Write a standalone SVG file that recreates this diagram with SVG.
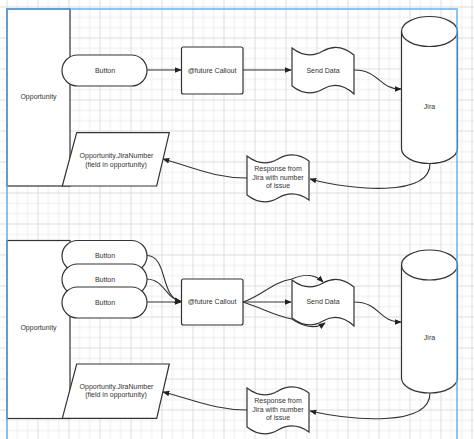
<svg xmlns="http://www.w3.org/2000/svg" width="474" height="439" viewBox="0 0 474 439">
<defs>
<pattern id="grid" width="31" height="31" patternUnits="userSpaceOnUse" x="6.5" y="6.5">
<path d="M10.83 0V31M21.17 0V31M0 10.83H31M0 21.17H31" stroke="#ececec" stroke-width="1" fill="none"/>
<path d="M0.5 0V31M0 0.5H31" stroke="#dcdcdc" stroke-width="1" fill="none"/>
</pattern>
<marker id="ah" viewBox="0 0 10 10" refX="9" refY="5" markerWidth="7" markerHeight="7" markerUnits="userSpaceOnUse" orient="auto">
<path d="M0,1 L10,5 L0,9 z" fill="#222"/>
</marker>
<style>
.s{fill:#fff;stroke:#333;stroke-width:1.2}
.c{fill:none;stroke:#333;stroke-width:1.1;marker-end:url(#ah)}
.n{fill:none;stroke:#333;stroke-width:1.2}
text{font-family:"Liberation Sans",Arial,sans-serif;font-size:7px;fill:#333;text-anchor:middle}
</style>
</defs>
<rect width="474" height="439" fill="#fff"/>
<rect width="474" height="439" fill="url(#grid)"/>

<g id="connectors">
<path class="c" d="M147,70 H181"/>
<path class="c" d="M243,70 H291"/>
<path class="c" d="M354,70 C380,70 378,89 401,89"/>
<path class="c" d="M430,163 C431,198 350,190 310,179"/>
<path class="c" d="M247,178 C215,178 195,168 163,159"/>
<path class="c" d="M147,255.5 C168,256 160,298 181,301.5"/>
<path class="c" d="M147,279 C165,280 165,298 181,301.5"/>
<path class="c" d="M147,302 H181"/>
<path class="c" d="M243,302 H291"/>
<path class="c" d="M243,302 C262,296 272,282 292,279 C305,273 316,275 323,282"/>
<path class="c" d="M243,302 C262,308 275,316 292,319 C302,326 315,330 325,323"/>
<path class="c" d="M354,302 C380,302 378,322 401,322"/>
<path class="c" d="M430,393 C430,428 350,420 310,411"/>
<path class="c" d="M247,410 C215,410 195,400 163,392"/>
</g>

<g id="opportunity1"><rect class="s" x="7" y="9" width="63" height="177"/><text x="38.5" y="98.5">Opportunity</text></g>
<g id="button1"><rect class="s" x="62" y="55" width="85" height="31" rx="15.5"/><text x="105" y="72.5">Button</text></g>
<g id="callout1"><rect class="s" x="181.5" y="47" width="61.5" height="47" rx="2"/><text x="212" y="72.5">@future Callout</text></g>
<g id="senddata1"><path class="s" d="M292,48 Q307.5,60 323,51 Q338.5,42 354,55 V94 Q338.5,80 323,89 Q307.5,98 292,86 Z"/><text x="323" y="72.5">Send Data</text></g>
<g id="jira1"><path class="s" d="M401.5,31.5 A28,15 0 0 1 457.5,31.5 V148.5 A28,15 0 0 1 401.5,148.5 Z"/><path class="n" d="M401.5,31.5 A28,15 0 0 0 457.5,31.5"/><text x="429.5" y="108.5">Jira</text></g>
<g id="response1"><path class="s" d="M247,156 Q262.5,168 278,159 Q293.5,150 309,161 V200 Q293.5,189 278,198 Q262.5,207 247,195 Z"/><text x="278" y="171">Response from</text><text x="278" y="179.8">Jira with number</text><text x="278" y="188.3">of issue</text></g>
<g id="jiranumber1"><path class="s" d="M76.7,132.7 H169.3 L156.7,186 H62.3 Z"/><text x="116.5" y="157.5">Opportunity.JiraNumber</text><text x="116" y="166.5">(field in opportunity)</text></g>

<g id="opportunity2"><rect class="s" x="7" y="240.5" width="63" height="178"/><text x="38.5" y="329.5">Opportunity</text></g>
<g id="button2a"><rect class="s" x="62" y="240.5" width="85" height="31" rx="15.5"/><text x="105" y="258">Button</text></g>
<g id="button2b"><rect class="s" x="62" y="264" width="85" height="31" rx="15.5"/><text x="105" y="281.5">Button</text></g>
<g id="button2c"><rect class="s" x="62" y="287" width="85" height="31" rx="15.5"/><text x="105" y="304.5">Button</text></g>
<g id="callout2"><rect class="s" x="181.5" y="279" width="61.5" height="46" rx="2"/><text x="212" y="304">@future Callout</text></g>
<g id="senddata2"><path class="s" d="M292,280 Q307.5,292 323,283 Q338.5,274 354,287 V326 Q338.5,312 323,321 Q307.5,330 292,318 Z"/><text x="323" y="304">Send Data</text></g>
<g id="jira2"><path class="s" d="M401.5,265 A28,15 0 0 1 457.5,265 V378 A28,15 0 0 1 401.5,378 Z"/><path class="n" d="M401.5,265 A28,15 0 0 0 457.5,265"/><text x="429.5" y="339.5">Jira</text></g>
<g id="response2"><path class="s" d="M247,388 Q262.5,400 278,391 Q293.5,382 309,393 V432 Q293.5,421 278,430 Q262.5,439 247,427 Z"/><text x="278" y="403">Response from</text><text x="278" y="411.8">Jira with number</text><text x="278" y="420.3">of issue</text></g>
<g id="jiranumber2"><path class="s" d="M76.7,364 H169.3 L156.7,418.3 H62.3 Z"/><text x="116.5" y="388.5">Opportunity.JiraNumber</text><text x="116" y="397.3">(field in opportunity)</text></g>

<path d="M7,439 V9 H457 V439" fill="none" stroke="#5aaaf0" stroke-width="1.5" opacity="0.9"/>
</svg>
